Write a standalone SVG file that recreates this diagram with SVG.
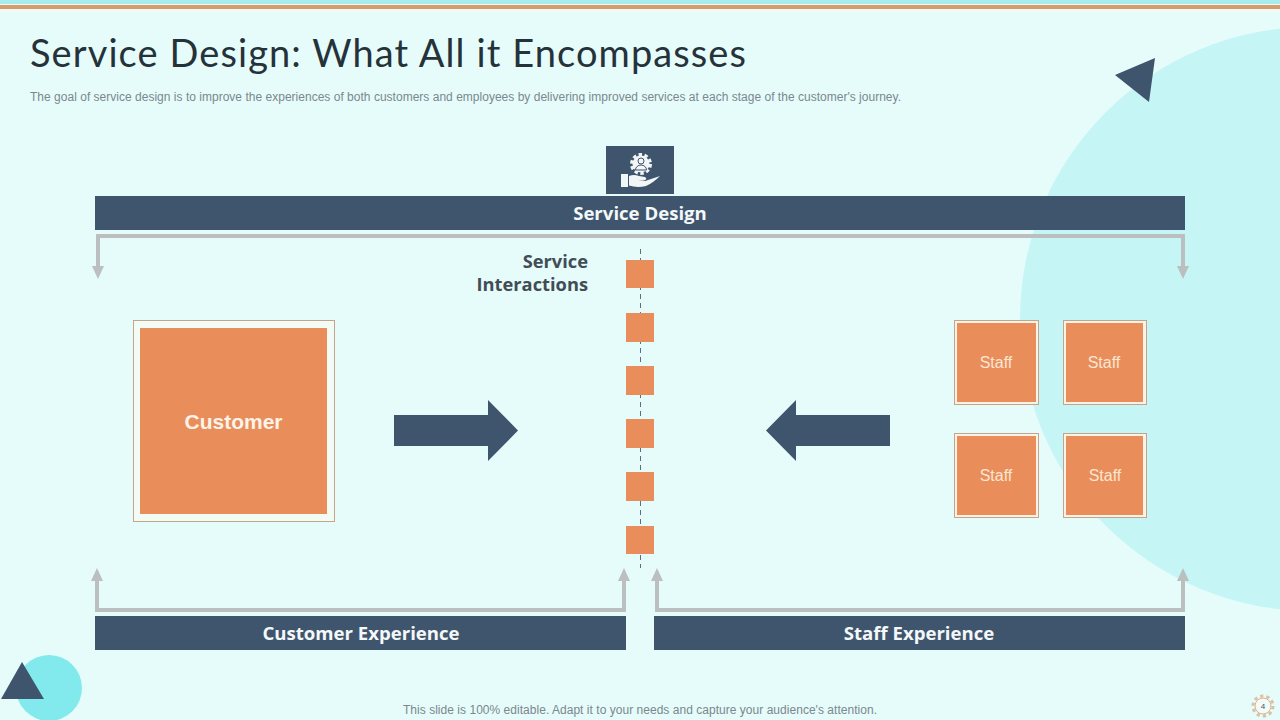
<svg xmlns="http://www.w3.org/2000/svg" width="1280" height="720" viewBox="0 0 1280 720">
<style>
.bar{fill:#3f556d}
.org{fill:#e98d5b}
.frame{fill:#faf3e6;stroke:#c4a48c;stroke-width:1}
.conn{fill:none;stroke:#bcbfc0;stroke-width:4}
.ah{fill:#bcbfc0}
.bt{font-family:"Open Sans","Noto Sans",sans-serif;font-weight:700;font-size:18.6px;fill:#f4f8f8;text-anchor:middle}
.st{font-family:"Liberation Sans",Arial,sans-serif;font-size:16px;fill:#fbe6d2;text-anchor:middle}
.sm{font-family:"Liberation Sans",Arial,sans-serif;font-size:12px;fill:#7c878e}
.si{font-family:"Open Sans","Noto Sans",sans-serif;font-weight:700;font-size:18.3px;fill:#434c55;text-anchor:end}
</style>
<rect width="1280" height="720" fill="#e5fcfb"/>
<circle cx="1312" cy="319" r="292" fill="#c6f5f6"/>
<rect width="1280" height="4" fill="#a8edee"/>
<rect y="5" width="1280" height="4" fill="#d99a6c"/>
<rect y="9" width="1280" height="3" fill="#f2fbf3"/>
<polygon points="1155,58 1115,75 1149,102" fill="#3f556d"/>
<circle cx="49" cy="688" r="33" fill="#82eaec"/>
<polygon points="22,662 1,699 44,699" fill="#3f556d"/>
<text x="30" y="67" font-family="Lato,'Open Sans',sans-serif" font-weight="400" font-size="38px" fill="#26323a" textLength="716">Service Design: What All it Encompasses</text>
<text x="30" y="101" class="sm" textLength="871">The goal of service design is to improve the experiences of both customers and employees by delivering improved services at each stage of the customer's journey.</text>
<g id="icon-service-design">
<rect x="606" y="146" width="68" height="48" class="bar"/>
<circle cx="641" cy="164" r="9.500" fill="none" stroke="#f2f6f7" stroke-width="3" stroke-dasharray="3.500 2.500"/>
<circle cx="641" cy="164" r="8.500" fill="#f2f6f7"/>
<circle cx="641" cy="161" r="3" fill="none" stroke="#3f556d" stroke-width="1"/>
<path d="M635.500 170a5.500 5 0 0 1 11 0z" fill="none" stroke="#3f556d" stroke-width="1"/>
<rect x="621" y="174" width="7" height="13" fill="#f2f6f7"/>
<path d="M629 176q5-2 10 0l6 1q3 2-1 3.500l-6 0.500 7 0 15-5q-7 7-14 10q-9 2-17-0.500z" fill="#f2f6f7"/>
</g>
<g id="service-design"><rect x="95" y="196" width="1090" height="34" class="bar"/><text x="640" y="220" class="bt">Service Design</text></g>
<g id="customer-experience"><rect x="95" y="616" width="531" height="34" class="bar"/><text x="361" y="640" class="bt">Customer Experience</text></g>
<g id="staff-experience"><rect x="654" y="616" width="531" height="34" class="bar"/><text x="919" y="640" class="bt">Staff Experience</text></g>
<g id="connectors">
<path class="conn" d="M98 268V236H1183V268"/>
<polygon class="ah" points="92,266 104,266 98,279"/>
<polygon class="ah" points="1177,266 1189,266 1183,279"/>
<path class="conn" d="M97 578V610H624V578"/>
<polygon class="ah" points="91,581 103,581 97,568"/>
<polygon class="ah" points="618,581 630,581 624,568"/>
<path class="conn" d="M657 578V610H1183V578"/>
<polygon class="ah" points="651,581 663,581 657,568"/>
<polygon class="ah" points="1177,581 1189,581 1183,568"/>
<path d="M640.500 249V568" fill="none" stroke="#55707f" stroke-width="1" stroke-dasharray="5 4"/>
<polygon class="bar" points="394,415 488,415 488,400 518,430.500 488,461 488,446 394,446"/>
<polygon class="bar" points="890,415 796,415 796,400 766,430.500 796,461 796,446 890,446"/>
</g>
<text class="si"><tspan x="588" y="267.500">Service</tspan><tspan x="588" y="290.500">Interactions</tspan></text>
<g id="interactions">
<rect x="626" y="260" width="28" height="28" class="org"/>
<rect x="626" y="313" width="28" height="29" class="org"/>
<rect x="626" y="366" width="28" height="29" class="org"/>
<rect x="626" y="419" width="28" height="29" class="org"/>
<rect x="626" y="472" width="28" height="29" class="org"/>
<rect x="626" y="526" width="28" height="28" class="org"/>
</g>
<g id="customer"><rect x="133.500" y="320.500" width="201" height="201" fill="#f3fbf5" stroke="#c4a48c"/><rect x="140" y="328" width="187" height="186" class="org"/><text x="233.500" y="429" font-family="'Liberation Sans',Arial,sans-serif" font-weight="700" font-size="21px" fill="#fdf3e8" text-anchor="middle">Customer</text></g>
<g id="staff-1"><rect x="954.500" y="320.500" width="84" height="84" class="frame"/><rect x="957" y="323" width="79" height="79" class="org"/><text x="996" y="368" class="st">Staff</text></g>
<g id="staff-2"><rect x="1063.500" y="320.500" width="83" height="84" class="frame"/><rect x="1066" y="323" width="77" height="79" class="org"/><text x="1104" y="368" class="st">Staff</text></g>
<g id="staff-3"><rect x="954.500" y="433.500" width="84" height="84" class="frame"/><rect x="957" y="436" width="79" height="79" class="org"/><text x="996" y="481" class="st">Staff</text></g>
<g id="staff-4"><rect x="1063.500" y="433.500" width="83" height="84" class="frame"/><rect x="1066" y="436" width="77" height="79" class="org"/><text x="1105" y="481" class="st">Staff</text></g>
<text x="640" y="714" class="sm" text-anchor="middle" textLength="474">This slide is 100% editable. Adapt it to your needs and capture your audience's attention.</text>
<g id="page-number">
<circle cx="1263" cy="706" r="10" fill="none" stroke="#dcc0a2" stroke-width="3" stroke-dasharray="3.200 3.080"/>
<circle cx="1263" cy="706" r="8" fill="#f3fbf8" stroke="#d9b48f" stroke-width="1"/>
<text x="1263" y="709" font-family="'Liberation Sans',Arial,sans-serif" font-size="8px" fill="#3f556d" text-anchor="middle">4</text>
</g>
</svg>
